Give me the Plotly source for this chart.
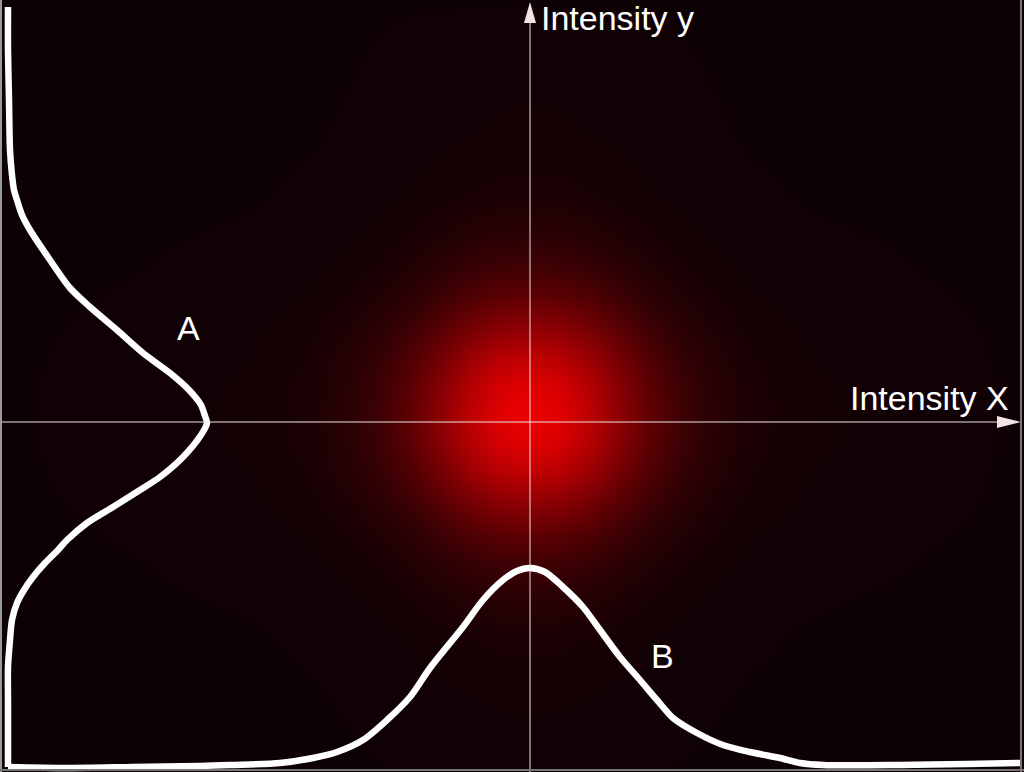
import numpy as np
import plotly.graph_objects as go

# picture is 1024 x 772 px, positions below are in image pixels (y grows downward)
W, H = 1024, 772
CX, CY = 530, 422   # crosshair position

# glow brightness of the beam, sampled along a row and along a column (0..1)
glow_cols = [0, 130, 250, 310, 350, 380, 410, 440, 470, 500, 530, 560, 590, 620, 650, 680, 710, 750, 810, 930, 1024]
glow_col_lvl = [0, .008, .025, .06, .13, .22, .36, .56, .78, .94, 1, .94, .78, .56, .36, .22, .13, .06, .025, .008, 0]
glow_rows = [0, 20, 135, 195, 235, 265, 295, 325, 355, 385, 415, 445, 475, 505, 535, 565, 595, 635, 695, 772]
glow_row_lvl = [0, .008, .025, .06, .13, .22, .36, .56, .78, .94, 1, .94, .78, .56, .36, .22, .13, .06, .025, .008]

# profile A (vertical cut): row -> horizontal excursion
a_rows = [7, 50, 100, 150, 175, 190, 200, 215, 230, 260, 288, 307, 330, 353, 373, 390, 405, 416, 423,
          435, 457, 477, 490, 507, 523, 540, 550, 563, 577, 590, 603, 620, 640, 667, 700, 767]
a_vals = [8, 8, 9, 10, 12, 14, 17, 22, 30, 50, 70, 90, 117, 143, 170, 189, 201, 205, 207,
          201, 183, 160, 140, 113, 87, 67, 58, 45, 33, 24, 17, 12, 10, 8, 8, 8]

# profile B (horizontal cut): column -> vertical position
b_cols = [8, 67, 133, 200, 230, 280, 313, 337, 363, 387, 410, 430, 463, 483, 503, 517, 530, 545, 563,
          583, 600, 620, 640, 657, 673, 697, 723, 750, 780, 800, 823, 900, 967, 1020]
b_vals = [767, 768, 767, 766, 765, 763, 758, 752, 740, 720, 697, 668, 627, 600, 580, 571, 568, 572, 587,
          607, 630, 657, 680, 700, 718, 733, 745, 752, 758, 763, 765, 765, 764, 763]

z = np.outer(glow_row_lvl, glow_col_lvl)

fig = go.Figure()
fig.add_trace(go.Heatmap(x=glow_cols, y=glow_rows, z=z, zsmooth="best", showscale=False,
                         zmin=0, zmax=1, hoverinfo="skip",
                         colorscale=[[0, "rgb(14,1,4)"], [0.5, "rgb(126,0,3)"], [1, "rgb(238,0,1)"]]))
fig.add_trace(go.Scatter(x=a_vals, y=a_rows, mode="lines",
                         line=dict(color="white", width=6.5, shape="spline", smoothing=0.8)))
fig.add_trace(go.Scatter(x=b_cols, y=b_vals, mode="lines",
                         line=dict(color="white", width=6.5, shape="spline", smoothing=0.8)))

axcol = "rgb(240,228,228)"
shapes = [
    dict(type="line", x0=CX, x1=CX, y0=H, y1=20, line=dict(color=axcol, width=1)),
    dict(type="path", path="M 524,23 L 530,2 L 536,23 Z", fillcolor=axcol, line=dict(width=0)),
    dict(type="line", x0=0, x1=1000, y0=CY, y1=CY, line=dict(color=axcol, width=1)),
    dict(type="path", path="M 997,416 L 1021,422 L 997,428 Z", fillcolor=axcol, line=dict(width=0)),
    # thin grey frame
    dict(type="line", x0=1, x1=1, y0=0, y1=H, line=dict(color="#9a9a9a", width=2)),
    dict(type="line", x0=1021, x1=1021, y0=0, y1=H, line=dict(color="#777", width=2)),
    dict(type="line", x0=0, x1=W, y0=770, y1=770, line=dict(color="#777", width=2)),
]
for s in shapes:
    s.update(xref="x", yref="y", layer="above")

font = dict(family="Liberation Sans, Arial, sans-serif", size=34, color="white")
labels = [("Intensity y", 539, 18, "left"), ("Intensity X", 848, 398, "left"),
          ("A", 188, 328, "center"), ("B", 662, 656, "center")]
annotations = [dict(text=t, x=x, y=y, xref="x", yref="y", xanchor=xa, yanchor="middle",
                    showarrow=False, font=font) for t, x, y, xa in labels]

fig.update_layout(
    width=W, height=H, margin=dict(l=0, r=0, t=0, b=0),
    paper_bgcolor="rgb(14,1,4)", plot_bgcolor="rgb(14,1,4)",
    showlegend=False, shapes=shapes, annotations=annotations,
    xaxis=dict(range=[0, W], visible=False, fixedrange=True),
    yaxis=dict(range=[H, 0], visible=False, fixedrange=True),
)

fig.write_html("out.html", config={"displayModeBar": False},
               post_script="document.body.style.margin='0';document.body.style.overflow='hidden';")
